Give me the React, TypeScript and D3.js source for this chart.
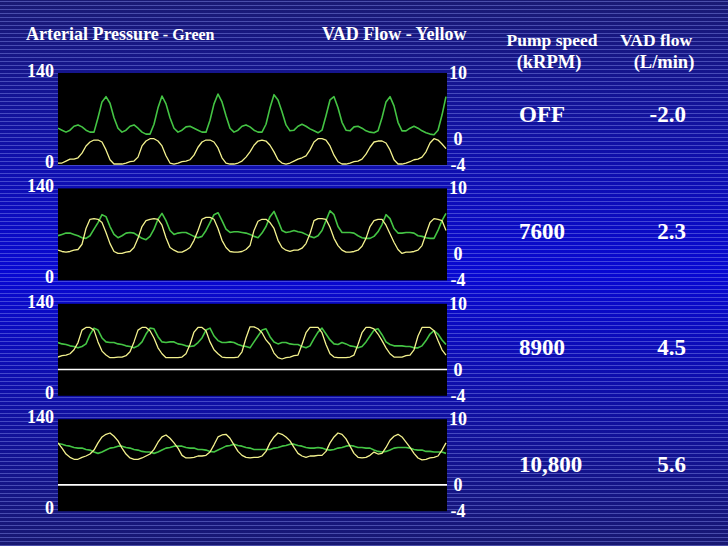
import React from "react";
import * as d3 from "d3";

// ---------- data (sampled traces, uniform time steps) ----------
const pressureOFF = [56,53,50,53,59,61,58,53,50,50,72,96,104,94,72,56,50,53,59,61,56,50,47,47,62,87,105,93,72,56,50,53,58,59,56,53,50,50,68,93,108,96,75,56,50,53,59,61,58,53,50,50,62,87,107,99,81,61,52,53,59,62,59,55,52,49,53,75,99,104,87,65,53,52,58,59,56,52,50,49,52,72,96,104,90,65,52,52,56,59,56,52,49,47,46,53,76,104];
const flowOFF = [-3.7,-3.7,-3.4,-3.1,-3.1,-2.9,-2.2,-1.1,-0.5,-0.2,-0.2,-0.5,-1.7,-3.2,-3.85,-3.85,-3.85,-3.7,-3.5,-3.4,-2.8,-1.1,-0.35,0,0,-0.35,-1.1,-2.6,-3.7,-3.85,-3.7,-3.5,-3.4,-3.2,-2.5,-1.3,-0.5,-0.2,-0.2,-0.5,-1.4,-2.9,-3.7,-3.85,-3.85,-3.7,-3.4,-2.8,-2.0,-1.0,-0.35,-0.2,-0.35,-1.0,-2.0,-3.2,-3.7,-3.85,-3.7,-3.4,-3.1,-2.9,-2.6,-1.7,-0.5,0,0,-0.2,-1.1,-2.5,-3.5,-3.85,-3.85,-3.7,-3.5,-3.4,-3.1,-2.35,-1.3,-0.5,-0.35,-0.35,-0.65,-1.7,-3.2,-3.85,-3.85,-3.7,-3.5,-3.2,-3.1,-2.8,-2.0,-0.65,0,-0.2,-0.8,-1.5];
const pressure7600 = [68,70,72,72,70,68,65,64,68,78,88,100,97,82,70,65,68,72,73,72,68,64,62,67,78,93,102,91,76,70,72,73,73,70,67,65,67,76,88,100,103,91,78,73,74,74,73,72,70,67,65,72,82,97,105,91,76,73,74,76,74,73,70,67,65,68,76,91,106,100,82,73,73,73,72,68,65,64,64,67,74,85,100,94,79,72,72,73,73,72,68,67,65,64,64,76,91,102];
const flow7600 = [0.6,0.4,0.3,0.4,0.6,0.7,1.5,3.9,5.3,5.4,5.3,4.8,3.3,1.6,0.4,0.1,0.1,0.3,0.4,1.0,2.4,4.2,5.1,5.3,5.4,5.3,4.4,2.5,1.0,0.6,0.3,0.3,0.6,1.0,2.1,3.6,5.3,5.6,5.6,5.3,3.9,2.1,1.0,0.4,0.3,0.3,0.4,0.7,1.3,3.6,5.0,5.3,5.3,4.8,3.9,2.1,1.0,0.6,0.4,0.6,0.6,0.9,1.6,3.1,5.1,5.4,5.4,5.3,4.1,2.4,1.3,0.6,0.3,0.3,0.4,0.6,1.2,2.4,4.2,5.1,5.3,5.3,4.4,3.1,1.8,0.7,0.1,0.3,0.3,0.4,0.6,1.3,3.1,4.8,5.4,5.3,5.1,3.6];
const pressure8900 = [81,79,78,76,75,73,75,79,93,103,100,88,82,81,81,79,78,76,75,73,76,82,94,103,102,90,82,81,82,82,79,78,76,75,76,81,88,100,103,91,84,81,81,82,81,78,76,75,73,82,91,100,102,90,82,79,81,81,79,78,78,75,73,76,87,97,103,94,85,79,78,81,79,76,75,73,75,82,91,100,102,93,82,78,76,76,76,75,75,73,73,76,84,94,99,94,85,78];
const flow8900 = [1.9,2.1,2.2,2.4,3.0,4.1,6.0,6.4,6.4,6.0,4.2,2.8,2.2,1.8,1.8,1.9,1.9,2.1,2.7,4.2,6.0,6.4,6.4,5.9,4.8,3.3,2.4,1.8,1.8,1.8,1.8,1.9,2.4,3.8,5.7,6.4,6.4,5.9,4.2,3.0,2.4,1.9,1.8,1.8,1.8,1.9,2.7,4.8,6.5,6.5,6.2,5.6,4.5,3.8,2.5,1.8,1.6,1.8,1.9,2.1,2.2,3.8,5.6,6.4,6.4,6.4,5.6,3.8,2.4,1.9,1.8,1.8,1.8,1.9,2.2,3.8,5.6,6.4,6.4,6.2,5.4,4.4,3.3,2.4,1.9,1.9,1.9,2.1,2.2,3.0,5.1,6.4,6.4,6.4,5.9,4.4,3.0,2.2];
const pressure10800 = [103,102,100,99,97,96,96,94,93,90,88,90,93,96,97,99,99,97,96,94,93,91,90,90,88,90,93,96,97,99,99,99,97,96,96,94,94,93,91,90,93,96,99,100,102,100,99,97,96,94,94,94,94,94,96,97,99,100,102,102,100,99,97,96,96,97,96,94,93,94,96,97,99,100,99,97,97,96,96,93,91,90,91,93,96,97,97,97,96,94,93,93,91,91,90,90,90,88];
const flow10800 = [6.4,5.6,4.7,4.2,3.9,3.9,4.2,4.4,4.7,5.3,6.4,7.3,7.7,7.9,7.4,6.7,5.6,4.7,4.1,3.9,3.9,4.1,4.4,4.7,5.4,6.5,7.3,7.6,7.1,6.4,5.6,4.5,4.1,4.1,4.2,4.4,4.4,4.5,5.0,6.1,7.3,7.6,7.7,7.1,6.1,5.1,4.5,4.2,4.1,4.2,4.2,4.4,5.1,6.4,7.3,7.9,7.7,7.3,6.7,5.7,4.8,4.4,4.2,4.4,4.4,4.5,4.5,5.1,6.4,7.3,7.9,7.7,7.0,5.9,4.8,4.2,4.1,4.2,4.5,5.0,4.7,4.8,5.7,6.8,7.4,7.7,7.3,6.5,5.7,4.8,4.1,3.8,3.9,4.1,4.2,4.4,5.3,6.4];

const pressureSeries = [pressureOFF, pressure7600, pressure8900, pressure10800];
const flowSeries = [flowOFF, flow7600, flow8900, flow10800];
const showZeroLine = [false, false, true, true];

const pumpSpeeds = ["OFF", "7600", "8900", "10,800"];
const vadFlows = ["-2.0", "2.3", "4.5", "5.6"];

const pressureDomain = [0, 140];
const flowDomain = [-4, 10];
const pressureTicks = [0, 140];
const flowTicks = [-4, 0, 10];

// ---------- layout ----------
const W = 728;
const H = 546;
const PX0 = 58;
const PX1 = 446;
const PANEL_TOP0 = 73;
const PANEL_STEP = 115.4;
const PANEL_H = 92;
const FONT = "'Liberation Serif', 'Times New Roman', serif";
const GREEN = "#44c444";
const YELLOW = "#f4f28e";

export default function App() {
  const n = pressureOFF.length;
  const x = d3.scaleLinear().domain([0, n - 1]).range([PX0, PX1]);
  const stripes = d3.range(1.5, H, 4);

  return (
    <svg
      width={W}
      height={H}
      style={{ position: "absolute", left: 0, top: 0, display: "block" }}
      fontFamily={FONT}
      fontWeight="bold"
    >
      <defs>
        <linearGradient id="bg" x1="0" y1="0" x2="0" y2="1">
          <stop offset="0" stopColor="#1a1a74" />
          <stop offset="0.5" stopColor="#0808d2" />
          <stop offset="1" stopColor="#181872" />
        </linearGradient>
        {pressureSeries.map((_, i) => {
          const top = PANEL_TOP0 + i * PANEL_STEP;
          return (
            <clipPath id={`clip${i}`} key={i}>
              <rect x={PX0} y={top} width={PX1 - PX0 + 1} height={PANEL_H} />
            </clipPath>
          );
        })}
      </defs>
      <rect width={W} height={H} fill="url(#bg)" />
      {stripes.map((y, i) => (
        <line
          key={i}
          x1={0}
          x2={W}
          y1={y}
          y2={y}
          stroke="#8c96f4"
          strokeOpacity={0.42}
          strokeWidth={1}
        />
      ))}

      {/* titles */}
      <text x={26} y={40} fill="#fff" fontSize={18}>
        Arterial Pressure<tspan fontSize={16}> - Green</tspan>
      </text>
      <text x={322} y={40} fill="#fff" fontSize={18}>
        VAD Flow - Yellow
      </text>
      <text x={552} y={46} fill="#fff" fontSize={17.5} textAnchor="middle">
        Pump speed
      </text>
      <text x={656} y={46} fill="#fff" fontSize={17.5} textAnchor="middle">
        VAD flow
      </text>
      <text x={549} y={68} fill="#fff" fontSize={18.5} textAnchor="middle">
        (kRPM)
      </text>
      <text x={664} y={68} fill="#fff" fontSize={18.5} textAnchor="middle">
        (L/min)
      </text>

      {pressureSeries.map((pData, i) => {
        const top = PANEL_TOP0 + i * PANEL_STEP;
        const bottom = top + PANEL_H;
        const yP = d3.scaleLinear().domain(pressureDomain).range([bottom, top]);
        const yF = d3.scaleLinear().domain(flowDomain).range([bottom, top]);
        const lineP = d3
          .line<number>()
          .x((_, j) => x(j))
          .y((d) => yP(d));
        const lineF = d3
          .line<number>()
          .x((_, j) => x(j))
          .y((d) => yF(d));
        const rowY = 122 + i * 116.7;
        return (
          <g key={i}>
            <rect x={PX0} y={top} width={PX1 - PX0 + 1} height={PANEL_H} fill="#000" />
            <g clipPath={`url(#clip${i})`}>
              {showZeroLine[i] && (
                <line
                  x1={PX0}
                  x2={PX1 + 1}
                  y1={yF(0)}
                  y2={yF(0)}
                  stroke="#fff"
                  strokeWidth={1.6}
                />
              )}
              <path d={lineP(pData) || ""} fill="none" stroke={GREEN} strokeWidth={1.6} strokeLinejoin="round" />
              <path d={lineF(flowSeries[i]) || ""} fill="none" stroke={YELLOW} strokeWidth={1.3} strokeLinejoin="round" />
            </g>
            {pressureTicks.map((t) => (
              <text
                key={`p${t}`}
                x={54}
                y={yP(t) + (t === 0 ? 3 : 4)}
                fill="#fff"
                fontSize={18}
                textAnchor="end"
              >
                {t}
              </text>
            ))}
            {flowTicks.map((t) => (
              <text
                key={`f${t}`}
                x={458}
                y={yF(t) + 6}
                fill="#fff"
                fontSize={18}
                textAnchor="middle"
              >
                {t}
              </text>
            ))}
            <text x={519} y={rowY} fill="#fff" fontSize={23}>
              {pumpSpeeds[i]}
            </text>
            <text x={686} y={rowY} fill="#fff" fontSize={23} textAnchor="end">
              {vadFlows[i]}
            </text>
          </g>
        );
      })}
    </svg>
  );
}
